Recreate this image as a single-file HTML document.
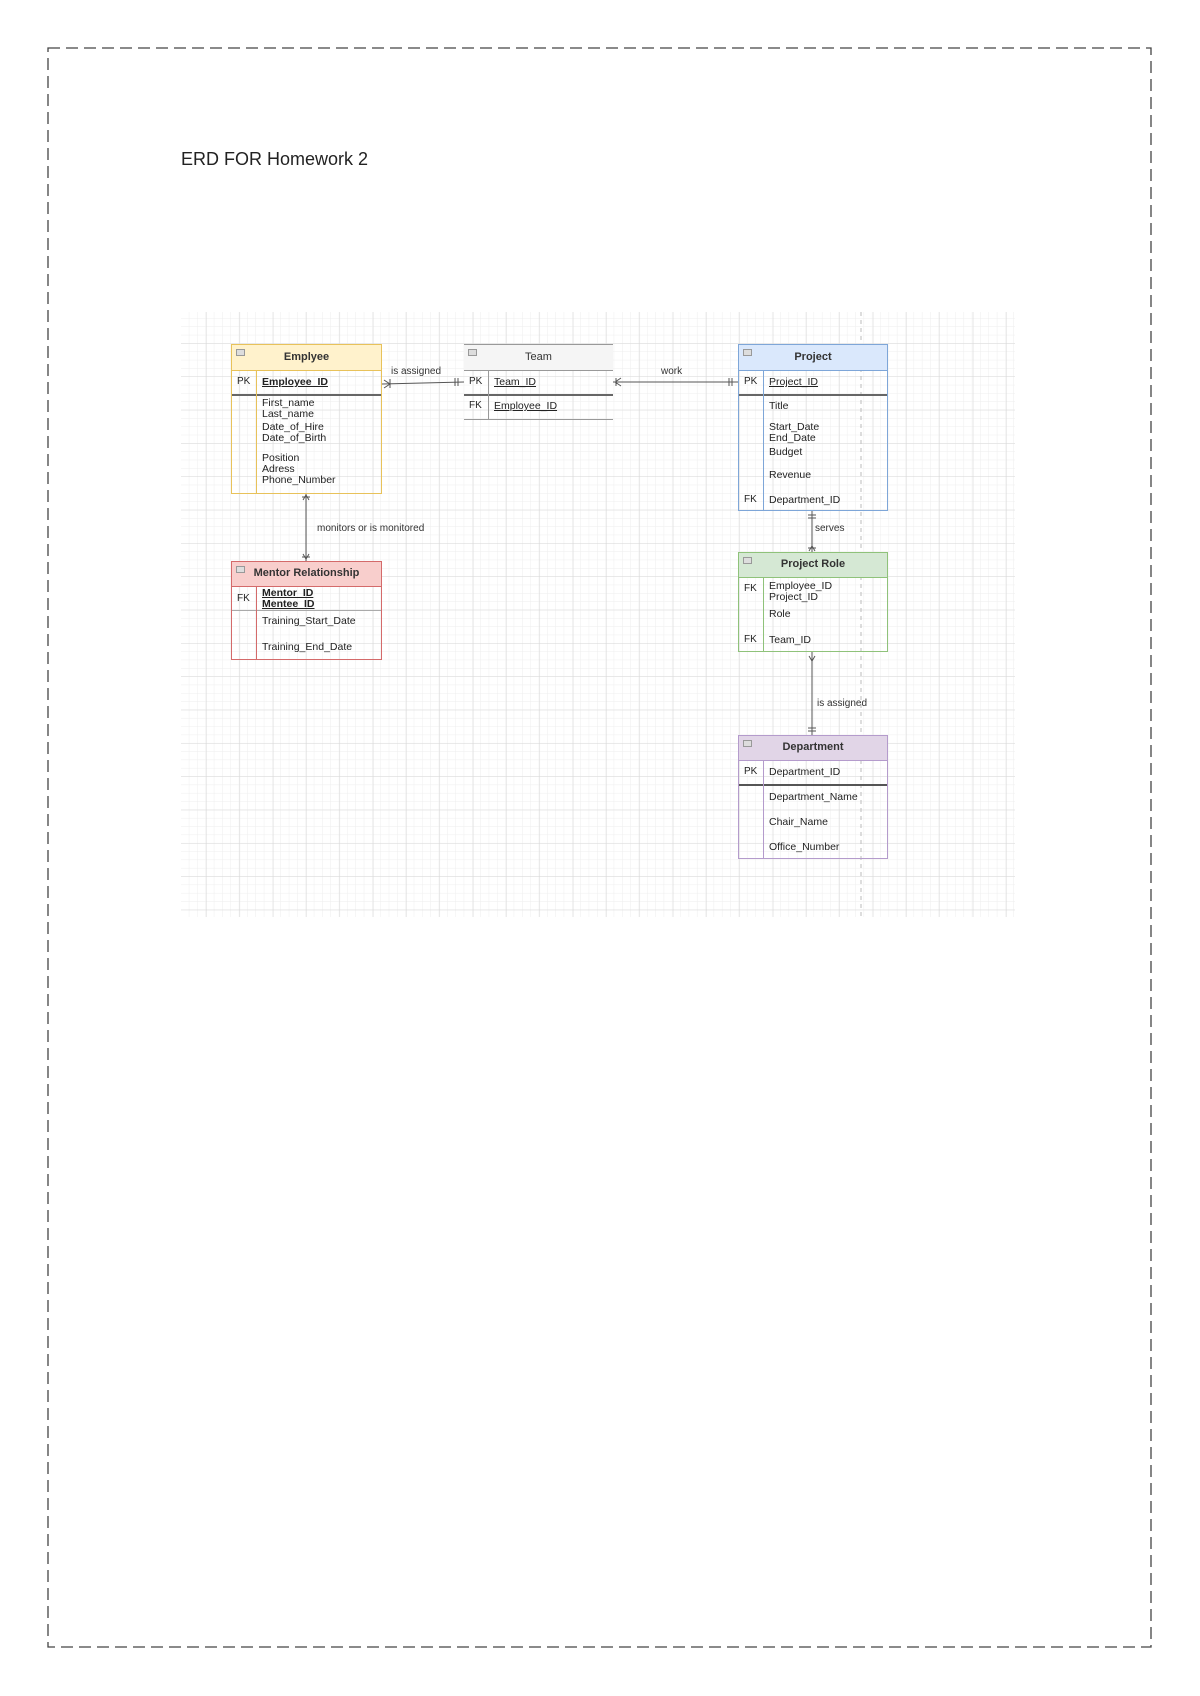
<!DOCTYPE html>
<html><head><meta charset="utf-8"><style>
body{margin:0;background:#fff;width:1200px;height:1696px;position:relative;font-family:"Liberation Sans",sans-serif;overflow:hidden}
.b{position:absolute;box-sizing:border-box;border:1.5px solid}
.h{position:absolute;left:0;right:0;top:0;text-align:center;font-size:11px;font-weight:bold;color:#333}
.t{position:absolute;font-size:10.5px;color:#222;line-height:11px;white-space:nowrap}
.k{position:absolute;font-size:10px;color:#222}
.lbl{position:absolute;font-size:10px;color:#333}
.ico{position:absolute;left:4px;top:4px;width:7px;height:5px;border:1px solid #999;background:#ddd}
</style></head><body>
<svg width="1200" height="1696" style="position:absolute;left:0;top:0">
<defs>
<pattern id="mn" x="181" y="310.3" width="8.33" height="8.33" patternUnits="userSpaceOnUse"><path d="M8.33 0V8.33H0" fill="none" stroke="#eee" stroke-width="1"/></pattern>
<pattern id="mj" x="173.4" y="310.3" width="33.33" height="33.33" patternUnits="userSpaceOnUse"><path d="M33.33 0V33.33H0" fill="none" stroke="#d8d8d8" stroke-width="1"/></pattern>
</defs>
<rect x="48" y="48" width="1103" height="1599" fill="none" stroke="#444" stroke-width="1.3" stroke-dasharray="12,6"/>
<rect x="181" y="312" width="834" height="605" fill="url(#mn)"/>
<rect x="181" y="312" width="834" height="605" fill="url(#mj)"/>
<line x1="861" y1="312" x2="861" y2="917" stroke="#bbb" stroke-dasharray="4,4"/>
<g stroke="#555" stroke-width="1" fill="none">
<line x1="382" y1="384" x2="464" y2="382"/>
<line x1="613" y1="382" x2="738" y2="382"/>
<line x1="306" y1="493" x2="306" y2="561"/>
<line x1="812" y1="511" x2="812" y2="552"/>
<line x1="812" y1="652" x2="812" y2="735"/>
<path d="M384 380l6 4-6 4M390 379v9M458 378v8M455 378v8M616 378v8M621 378l-6 4 6 4M732 378v8M729 378v8"/>
<path d="M302 497h8M303 500l3-5 3 5M302 557h8M303 554l3 5 3-5M808 515h8M808 518h8M808 548h8M809 551l3-5 3 5M809 656l3 5 3-5M808 728h8M808 731h8"/>
</g>
</svg>
<div style="position:absolute;left:181px;top:149px;font-size:18px;color:#222">ERD FOR Homework 2</div>

<!-- Employee -->
<div class="b" style="left:231px;top:344px;width:151px;height:150px;border-color:#e8c25a">
<div style="position:absolute;left:0;right:0;top:0;height:25px;background:#fff2cc;border-bottom:1px solid #e8c25a"></div><div class="ico"></div>
<div class="h" style="top:6px">Emplyee</div>
<div style="position:absolute;left:0;right:0;top:49px;border-top:2px solid #666"></div>
<div style="position:absolute;left:24px;top:25px;bottom:0;border-left:1px solid #e8c25a"></div>
<div class="k" style="left:5px;top:31px">PK</div>
<div class="t" style="left:30px;top:32px;text-decoration:underline;font-weight:bold">Employee_ID</div>
<div class="t" style="left:30px;top:53px">First_name<br>Last_name</div>
<div class="t" style="left:30px;top:77px">Date_of_Hire<br>Date_of_Birth</div>
<div class="t" style="left:30px;top:108px">Position<br>Adress<br>Phone_Number</div>
</div>

<!-- Team -->
<div class="b" style="left:464px;top:344px;width:149px;height:76px;border-color:#999;border-left:none;border-right:none">
<div style="position:absolute;left:0;right:0;top:0;height:25px;background:#f5f5f5;border-bottom:1px solid #999"></div><div class="ico"></div>
<div class="h" style="top:6px;font-weight:normal">Team</div>
<div style="position:absolute;left:0;right:0;top:49px;border-top:2px solid #666"></div>
<div style="position:absolute;left:24px;top:25px;bottom:0;border-left:1px solid #999"></div>
<div class="k" style="left:5px;top:31px">PK</div>
<div class="t" style="left:30px;top:32px;text-decoration:underline">Team_ID</div>
<div class="k" style="left:5px;top:55px">FK</div>
<div class="t" style="left:30px;top:56px;text-decoration:underline">Employee_ID</div>
</div>

<!-- Project -->
<div class="b" style="left:738px;top:344px;width:150px;height:167px;border-color:#7ea6d8">
<div style="position:absolute;left:0;right:0;top:0;height:25px;background:#dae8fc;border-bottom:1px solid #7ea6d8"></div><div class="ico"></div>
<div class="h" style="top:6px">Project</div>
<div style="position:absolute;left:0;right:0;top:49px;border-top:2px solid #666"></div>
<div style="position:absolute;left:24px;top:25px;bottom:0;border-left:1px solid #7ea6d8"></div>
<div class="k" style="left:5px;top:31px">PK</div>
<div class="t" style="left:30px;top:32px;text-decoration:underline">Project_ID</div>
<div class="t" style="left:30px;top:56px">Title</div>
<div class="t" style="left:30px;top:77px">Start_Date<br>End_Date</div>
<div class="t" style="left:30px;top:102px">Budget</div>
<div class="t" style="left:30px;top:125px">Revenue</div>
<div class="k" style="left:5px;top:149px">FK</div>
<div class="t" style="left:30px;top:150px">Department_ID</div>
</div>

<!-- Mentor -->
<div class="b" style="left:231px;top:561px;width:151px;height:99px;border-color:#d46a6a">
<div style="position:absolute;left:0;right:0;top:0;height:24px;background:#f8cecc;border-bottom:1px solid #d46a6a"></div><div class="ico"></div>
<div class="h" style="top:5px">Mentor Relationship</div>
<div style="position:absolute;left:0;right:0;top:48px;border-top:1px solid #aaa"></div>
<div style="position:absolute;left:24px;top:24px;bottom:0;border-left:1px solid #d46a6a"></div>
<div class="k" style="left:5px;top:31px">FK</div>
<div class="t" style="left:30px;top:26px;text-decoration:underline;font-weight:bold">Mentor_ID<br>Mentee_ID</div>
<div class="t" style="left:30px;top:54px">Training_Start_Date</div>
<div class="t" style="left:30px;top:80px">Training_End_Date</div>
</div>

<!-- Project Role -->
<div class="b" style="left:738px;top:552px;width:150px;height:100px;border-color:#8fc27a">
<div style="position:absolute;left:0;right:0;top:0;height:24px;background:#d5e8d4;border-bottom:1px solid #8fc27a"></div><div class="ico"></div>
<div class="h" style="top:5px">Project Role</div>
<div style="position:absolute;left:24px;top:24px;bottom:0;border-left:1px solid #8fc27a"></div>
<div class="k" style="left:5px;top:30px">FK</div>
<div class="t" style="left:30px;top:28px">Employee_ID<br>Project_ID</div>
<div class="t" style="left:30px;top:56px">Role</div>
<div class="k" style="left:5px;top:81px">FK</div>
<div class="t" style="left:30px;top:82px">Team_ID</div>
</div>

<!-- Department -->
<div class="b" style="left:738px;top:735px;width:150px;height:124px;border-color:#b49bcc">
<div style="position:absolute;left:0;right:0;top:0;height:24px;background:#e1d5e7;border-bottom:1px solid #b49bcc"></div><div class="ico"></div>
<div class="h" style="top:5px">Department</div>
<div style="position:absolute;left:0;right:0;top:48px;border-top:2px solid #555"></div>
<div style="position:absolute;left:24px;top:24px;bottom:0;border-left:1px solid #b49bcc"></div>
<div class="k" style="left:5px;top:30px">PK</div>
<div class="t" style="left:30px;top:31px">Department_ID</div>
<div class="t" style="left:30px;top:56px">Department_Name</div>
<div class="t" style="left:30px;top:81px">Chair_Name</div>
<div class="t" style="left:30px;top:106px">Office_Number</div>
</div>

<div class="lbl" style="left:391px;top:366px">is assigned</div>
<div class="lbl" style="left:661px;top:366px">work</div>
<div class="lbl" style="left:317px;top:523px">monitors or is monitored</div>
<div class="lbl" style="left:815px;top:523px">serves</div>
<div class="lbl" style="left:817px;top:698px">is assigned</div>
</body></html>
